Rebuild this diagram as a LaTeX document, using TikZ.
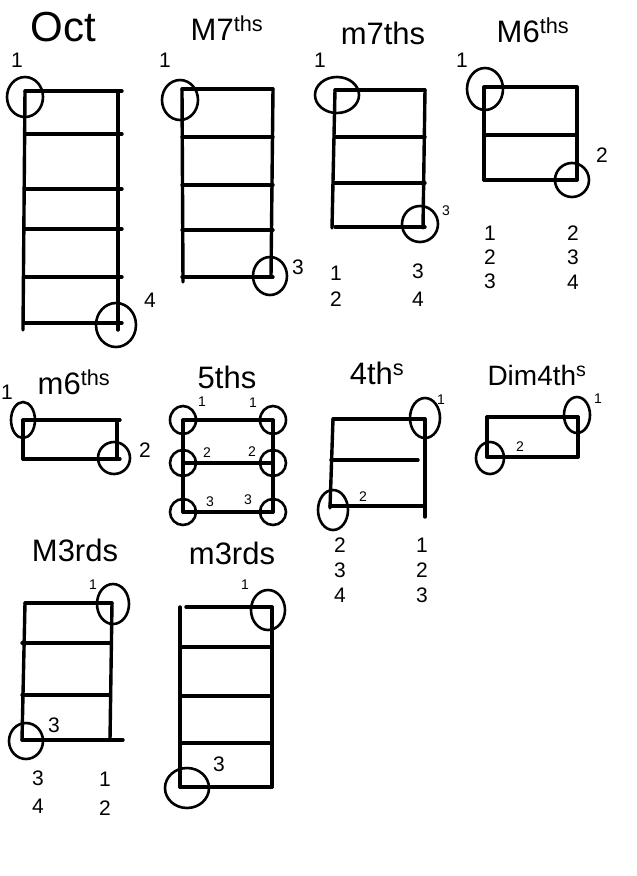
\documentclass[tikz,border=0pt]{standalone}
\usepackage{fontspec}
\setmainfont{Liberation Sans}
\usetikzlibrary{shapes.geometric}
\tikzset{
  grid/.style={line width=3.4pt, line cap=round},
  ring/.style={ellipse, draw, line width=2.6pt, inner sep=0pt},
  title/.style={font=\fontsize{31}{31}\selectfont, inner sep=0pt},
  lbl/.style={font=\fontsize{21}{21}\selectfont, inner sep=0pt},
  sml/.style={font=\fontsize{14}{14}\selectfont, inner sep=0pt},
}
\begin{document}
\begin{tikzpicture}[x=1pt,y=-1pt]
\useasboundingbox (0,0) rectangle (637,876);

% ---------- Oct ----------
\node[title, font=\fontsize{42}{42}\selectfont] (tOct) at (63,27) {Oct};
\draw[grid] (25,91) -- (23,330);
\draw[grid] (118,91) -- (118,330);
\foreach \y in {91,134,189,229,277,323} \draw[grid] (25,\y) -- (122,\y);
\node[ring, minimum width=36pt, minimum height=40pt] (oct1) at (25,97) {};
\node[ring, minimum width=40pt, minimum height=44pt] (oct4) at (116,325) {};
\node[lbl] (octl1) at (17,60) {1};
\node[lbl] (octl4) at (150,300) {4};

% ---------- M7ths ----------
\node[title] (tM7) at (227,28) {M7\textsuperscript{ths}};
\draw[grid] (182,89) -- (183,282);
\draw[grid] (273,89) -- (271,277);
\foreach \y in {89,137,185,230,277} \draw[grid] (182,\y) -- (273,\y);
\node[ring, minimum width=36pt, minimum height=40pt] (m71) at (180,100) {};
\node[ring, minimum width=34pt, minimum height=38pt] (m73) at (270,276) {};
\node[lbl] (m7l1) at (165,60) {1};
\node[lbl] (m7l3) at (298,267) {3};

% ---------- m7ths ----------
\node[title] (tm7) at (383,33) {m7ths};
\draw[grid] (335,90) -- (332,228);
\draw[grid] (425,90) -- (423,228);
\foreach \y in {90,137,183,227} \draw[grid] (335,\y) -- (425,\y);
\node[ring, minimum width=44pt, minimum height=36pt] (mm1) at (337,95) {};
\node[ring, minimum width=36pt, minimum height=36pt] (mm3) at (420,224) {};
\node[lbl] (mml1) at (320,60) {1};
\node[sml] (mml3) at (446,211) {3};
\node[lbl] (mmc11) at (336,273) {1};
\node[lbl] (mmc12) at (336,299) {2};
\node[lbl] (mmc21) at (418,271) {3};
\node[lbl] (mmc22) at (418,299) {4};

% ---------- M6ths ----------
\node[title] (tM6) at (533,30) {M6\textsuperscript{ths}};
\draw[grid] (484,87) -- (484,180);
\draw[grid] (577,87) -- (577,180);
\foreach \y in {87,135,180} \draw[grid] (484,\y) -- (577,\y);
\node[ring, minimum width=36pt, minimum height=42pt] (M61) at (485,89) {};
\node[ring, minimum width=34pt, minimum height=34pt] (M62) at (572,180) {};
\node[lbl] (M6l1) at (462,60) {1};
\node[lbl] (M6l2) at (602,155) {2};
\node[lbl] (M6c11) at (490,233) {1};
\node[lbl] (M6c12) at (490,257) {2};
\node[lbl] (M6c13) at (490,281) {3};
\node[lbl] (M6c21) at (573,233) {2};
\node[lbl] (M6c22) at (573,257) {3};
\node[lbl] (M6c23) at (573,282) {4};

% ---------- m6ths ----------
\node[title] (tm6) at (74,382) {m6\textsuperscript{ths}};
\draw[grid] (23,420) -- (23,459);
\draw[grid] (117,420) -- (117,459);
\foreach \y in {420,459} \draw[grid] (23,\y) -- (120,\y);
\node[ring, minimum width=24pt, minimum height=36pt] (m61) at (23,420) {};
\node[ring, minimum width=32pt, minimum height=32pt] (m62) at (114,458) {};
\node[lbl] (m6l1) at (7,392) {1};
\node[lbl] (m6l2) at (145,450) {2};

% ---------- 5ths ----------
\node[title] (t5) at (227,377) {5ths};
\draw[grid] (183,420) -- (183,512);
\draw[grid] (273,420) -- (273,512);
\foreach \y in {420,463,512} \draw[grid] (183,\y) -- (273,\y);
\foreach \x/\n in {183/a,273/b}{
  \node[ring, minimum width=26pt, minimum height=28pt] (f1\n) at (\x,420) {};
  \node[ring, minimum width=26pt, minimum height=26pt] (f2\n) at (\x,463) {};
  \node[ring, minimum width=26pt, minimum height=26pt] (f3\n) at (\x,512) {};
}
\node[sml] (fl1a) at (202,402) {1};
\node[sml] (fl1b) at (253,403) {1};
\node[sml] (fl2a) at (207,453) {2};
\node[sml] (fl2b) at (252,452) {2};
\node[sml] (fl3a) at (210,502) {3};
\node[sml] (fl3b) at (248,500) {3};

% ---------- 4ths ----------
\node[title] (t4) at (377,373) {4th\textsuperscript{s}};
\draw[grid] (333,419) -- (330,508);
\draw[grid] (425,419) -- (425,517);
\draw[grid] (333,419) -- (425,419);
\draw[grid] (331,460) -- (418,460);
\draw[grid] (330,506) -- (425,506);
\node[ring, minimum width=30pt, minimum height=40pt] (q1) at (425,418) {};
\node[ring, minimum width=30pt, minimum height=40pt] (q2) at (333,510) {};
\node[sml] (ql1) at (441,400) {1};
\node[sml] (ql2) at (363,497) {2};
\node[lbl] (qc11) at (340,545) {2};
\node[lbl] (qc12) at (340,570) {3};
\node[lbl] (qc13) at (340,595) {4};
\node[lbl] (qc21) at (422,545) {1};
\node[lbl] (qc22) at (422,570) {2};
\node[lbl] (qc23) at (422,595) {3};

% ---------- Dim4ths ----------
\node[title, font=\fontsize{28}{28}\selectfont] (td4) at (537,375) {Dim4th\textsuperscript{s}};
\draw[grid] (487,417) -- (487,457);
\draw[grid] (578,417) -- (578,457);
\foreach \y in {417,457} \draw[grid] (487,\y) -- (578,\y);
\node[ring, minimum width=26pt, minimum height=36pt] (d1) at (577,415) {};
\node[ring, minimum width=28pt, minimum height=32pt] (d2) at (490,458) {};
\node[sml] (dl1) at (598,399) {1};
\node[sml] (dl2) at (520,447) {2};

% ---------- M3rds ----------
\node[title] (tM3) at (75,550) {M3rds};
\draw[grid] (25,603) -- (22,740);
\draw[grid] (112,603) -- (110,740);
\draw[grid] (25,603) -- (112,603);
\draw[grid] (22,643) -- (110,643);
\draw[grid] (22,695) -- (110,695);
\draw[grid] (22,740) -- (123,740);
\node[ring, minimum width=32pt, minimum height=40pt] (M31) at (113,604) {};
\node[ring, minimum width=34pt, minimum height=36pt] (M33) at (26,741) {};
\node[sml] (M3l1) at (93,585) {1};
\node[lbl] (M3l3) at (54,725) {3};
\node[lbl] (M3c11) at (38,778) {3};
\node[lbl] (M3c12) at (38,806) {4};
\node[lbl] (M3c21) at (105,779) {1};
\node[lbl] (M3c22) at (105,808) {2};

% ---------- m3rds ----------
\node[title] (tm3) at (232,553) {m3rds};
\draw[grid] (180,607) -- (180,787);
\draw[grid] (272,607) -- (272,787);
\draw[grid] (186,607) -- (272,607);
\foreach \y in {647,696,743,787} \draw[grid] (180,\y) -- (272,\y);
\node[ring, minimum width=34pt, minimum height=40pt] (m31) at (268,610) {};
\node[ring, minimum width=44pt, minimum height=40pt] (m33) at (187,788) {};
\node[sml] (m3l1) at (245,585) {1};
\node[lbl] (m3l3) at (219,764) {3};
\end{tikzpicture}
\end{document}
